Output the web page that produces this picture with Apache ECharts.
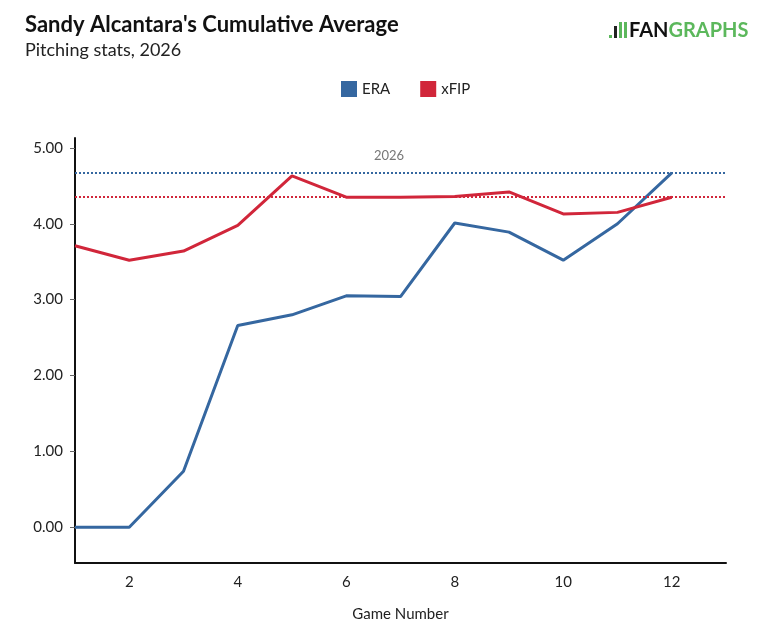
<!DOCTYPE html>
<html>
<head>
<meta charset="utf-8">
<script src="https://cdn.jsdelivr.net/npm/echarts@6/dist/echarts.min.js"></script>
<style>
  html, body { margin: 0; padding: 0; background: #fff; }
  #main { width: 768px; height: 630px; }
</style>
</head>
<body>
<div id="main"></div>
<script>
// data
var games = [1, 2, 3, 4, 5, 6, 7, 8, 9, 10, 11, 12];
var era = [0.00, 0.00, 0.74, 2.66, 2.80, 3.05, 3.04, 4.01, 3.89, 3.52, 4.00, 4.67];
var xfip = [3.71, 3.52, 3.64, 3.98, 4.63, 4.35, 4.35, 4.36, 4.42, 4.13, 4.15, 4.35];
var eraSeason = 4.67;
var xfipSeason = 4.35;
var xTicks = [2, 4, 6, 8, 10, 12];
var yTicks = [0, 1, 2, 3, 4, 5];

var blue = '#3567a0';
var red = '#d1263a';
var green = '#5cb85c';

var chart = echarts.init(document.getElementById('main'));

function pairs(vals) {
    return games.map(function (g, i) { return [g, vals[i]]; });
}

var option = {
    animation: false,
    textStyle: { fontFamily: 'Lato, "Open Sans", sans-serif' },
    title: [
        {
            text: "Sandy Alcantara's Cumulative Average",
            left: 20, top: 9,
            textStyle: { fontSize: 22, fontWeight: 'bold', color: '#111', fontFamily: 'Lato' }
        },
        {
            text: 'Pitching stats, 2026',
            left: 20, top: 36,
            textStyle: { fontSize: 18, fontWeight: 'normal', color: '#222', fontFamily: 'Lato' }
        }
    ],
    graphic: [
        // fangraphs logo, rough
        { type: 'rect', shape: { x: 609, y: 35, width: 3, height: 3 }, style: { fill: green } },
        { type: 'rect', shape: { x: 614, y: 26, width: 3, height: 12 }, style: { fill: '#222' } },
        { type: 'rect', shape: { x: 619, y: 22, width: 3, height: 16 }, style: { fill: green } },
        { type: 'rect', shape: { x: 624, y: 22, width: 3, height: 16 }, style: { fill: green } },
        {
            type: 'text', left: 629, top: 21,
            style: {
                text: '{a|FAN}{b|GRAPHS}',
                rich: {
                    a: { fontSize: 20, fontWeight: 'bold', fill: '#111', fontFamily: 'Lato' },
                    b: { fontSize: 20, fontWeight: 'bold', fill: green, fontFamily: 'Lato' }
                }
            }
        },
        {
            type: 'text', left: 374, top: 149,
            style: { text: '2026', fill: '#777', fontSize: 13, fontFamily: 'Lato', align: 'center' }
        }
    ],
    legend: {
        left: 336, top: 76,
        itemWidth: 16, itemHeight: 16, itemGap: 30,
        icon: 'rect',
        textStyle: { fontSize: 15, color: '#222', fontFamily: 'Lato' },
        data: ['ERA', 'xFIP']
    },
    grid: { left: 75, right: 42, top: 138, bottom: 67 },
    xAxis: {
        type: 'value',
        min: 1, max: 13,
        name: 'Game Number',
        nameLocation: 'middle',
        nameGap: 44,
        nameTextStyle: { fontSize: 15, color: '#222', fontFamily: 'Lato' },
        axisLine: { onZero: false, lineStyle: { color: '#111', width: 2 } },
        axisTick: { show: false },
        axisLabel: { customValues: xTicks, fontSize: 15, color: '#222', margin: 12 },
        splitLine: { show: false }
    },
    yAxis: {
        type: 'value',
        min: -0.47, max: 5.13,
        axisLine: { show: true, onZero: false, lineStyle: { color: '#111', width: 2 } },
        axisTick: { show: true, customValues: yTicks, length: 5, lineStyle: { color: '#666' } },
        axisLabel: {
            customValues: yTicks, fontSize: 15, color: '#222', margin: 12,
            formatter: function (v) { return v.toFixed(2); }
        },
        splitLine: { show: false }
    },
    series: [
        {
            name: 'ERA', type: 'line',
            data: pairs(era),
            color: blue,
            symbol: 'none',
            lineStyle: { width: 3, color: blue },
            markLine: {
                silent: true, symbol: 'none', label: { show: false },
                lineStyle: { type: 'dotted', width: 2, color: blue },
                data: [{ yAxis: eraSeason }]
            }
        },
        {
            name: 'xFIP', type: 'line',
            data: pairs(xfip),
            color: red,
            symbol: 'none',
            lineStyle: { width: 3, color: red },
            markLine: {
                silent: true, symbol: 'none', label: { show: false },
                lineStyle: { type: 'dotted', width: 2, color: red },
                data: [{ yAxis: xfipSeason }]
            }
        }
    ]
};

chart.setOption(option);
</script>
</body>
</html>
